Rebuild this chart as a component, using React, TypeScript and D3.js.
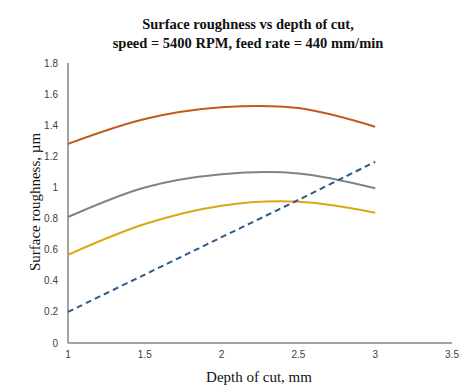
import React, { useEffect, useRef } from "react";
import * as d3 from "d3";

const depths = [1, 1.5, 2, 2.5, 3];
const seriesA = [1.28, 1.44, 1.515, 1.51, 1.39];
const seriesB = [0.81, 1.0, 1.085, 1.09, 0.995];
const seriesC = [0.567, 0.765, 0.883, 0.908, 0.838];
const seriesD = [0.2, 0.44, 0.68, 0.92, 1.165];
const xTicks = [1, 1.5, 2, 2.5, 3, 3.5];
const yTicks = [0, 0.2, 0.4, 0.6, 0.8, 1, 1.2, 1.4, 1.6, 1.8];

const App = () => {
  const ref = useRef<HTMLDivElement>(null);
  useEffect(() => {
    d3.select(ref.current).select("svg").remove();
    const W = 474, H = 389;
    const svg = d3
      .select(ref.current)
      .append("svg")
      .attr("width", W)
      .attr("height", H)
      .style("display", "block");

    const x = d3.scaleLinear().domain([1, 3.5]).range([68, 452]);
    const y = d3.scaleLinear().domain([0, 1.8]).range([343, 63]);

    // titles
    const title = svg
      .append("text")
      .attr("text-anchor", "middle")
      .style("font-family", "'Liberation Serif', serif")
      .style("font-weight", "bold")
      .style("font-size", "14.5px")
      .attr("fill", "#111");
    title.append("tspan").attr("x", 248).attr("y", 29).text("Surface roughness vs depth  of cut,");
    title.append("tspan").attr("x", 248).attr("y", 48).text("speed = 5400 RPM, feed rate = 440 mm/min");

    // axes lines
    svg.append("line").attr("x1", x(1)).attr("x2", x(1)).attr("y1", y(1.8)).attr("y2", y(0))
      .attr("stroke", "#868686").attr("stroke-width", 1.5);
    svg.append("line").attr("x1", x(1)).attr("x2", x(3.5)).attr("y1", y(0)).attr("y2", y(0))
      .attr("stroke", "#868686").attr("stroke-width", 1.5);

    // tick labels
    svg.selectAll(".yt").data(yTicks).enter().append("text")
      .attr("x", 58).attr("y", (d) => y(d) + 3.5)
      .attr("text-anchor", "end")
      .style("font-family", "'Liberation Sans', sans-serif")
      .style("font-size", "10px")
      .attr("fill", "#404040")
      .text((d) => String(d));
    svg.selectAll(".xt").data(xTicks).enter().append("text")
      .attr("x", (d) => x(d)).attr("y", 358)
      .attr("text-anchor", "middle")
      .style("font-family", "'Liberation Sans', sans-serif")
      .style("font-size", "10px")
      .attr("fill", "#404040")
      .text((d) => String(d));

    // axis titles
    svg.append("text")
      .attr("x", 259).attr("y", 382)
      .attr("text-anchor", "middle")
      .style("font-family", "'Liberation Serif', serif")
      .style("font-size", "15px")
      .attr("fill", "#111")
      .text("Depth of cut, mm");
    svg.append("text")
      .attr("transform", "translate(40,202) rotate(-90)")
      .attr("text-anchor", "middle")
      .style("font-family", "'Liberation Serif', serif")
      .style("font-size", "15px")
      .attr("fill", "#111")
      .text("Surface roughness, µm");

    const line = d3
      .line<number>()
      .x((d, i) => x(depths[i]))
      .y((d) => y(d))
      .curve(d3.curveCardinal.tension(0));

    const series = [
      { v: seriesA, c: "#C4581C", dash: null },
      { v: seriesB, c: "#828282", dash: null },
      { v: seriesC, c: "#DCA712", dash: null },
      { v: seriesD, c: "#2F5A88", dash: "6,4" },
    ];
    series.forEach((s) => {
      svg.append("path")
        .datum(s.v)
        .attr("fill", "none")
        .attr("stroke", s.c)
        .attr("stroke-width", 2)
        .attr("stroke-dasharray", s.dash)
        .attr("d", line);
    });
  }, []);

  return (
    <div
      ref={ref}
      style={{ position: "fixed", left: 0, top: 0, width: 474, height: 389, overflow: "hidden", background: "#fff" }}
    />
  );
};

export default App;
